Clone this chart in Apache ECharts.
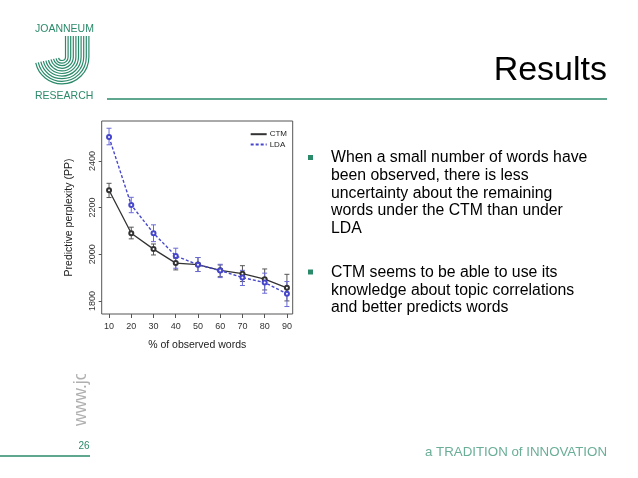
<!DOCTYPE html>
<html>
<head>
<meta charset="utf-8">
<script src="https://cdn.jsdelivr.net/npm/echarts@6/dist/echarts.min.js"></script>
<style>
html,body{margin:0;padding:0;background:#fff;}
#c{width:638px;height:478px;}
</style>
</head>
<body>
<div id="c"></div>
<script>
const pct = [10, 20, 30, 40, 50, 60, 70, 80, 90];
const ctmPP = [2274, 2090, 2022, 1962, 1956, 1931, 1917, 1893, 1856];
const ctmLow = [2243, 2066, 1997, 1933, 1926, 1904, 1883, 1847, 1800];
const ctmHigh = [2304, 2116, 2044, 1983, 1986, 1954, 1951, 1937, 1914];
const ldaPP = [2502, 2211, 2090, 1993, 1955, 1930, 1900, 1879, 1831];
const ldaLow = [2469, 2178, 2054, 1940, 1926, 1900, 1866, 1833, 1776];
const ldaHigh = [2540, 2244, 2126, 2026, 1986, 1957, 1931, 1919, 1883];
const xTicks = [10, 20, 30, 40, 50, 60, 70, 80, 90];
const yTicks = [1800, 2000, 2200, 2400];
const seriesNames = ['CTM', 'LDA'];
const titleText = 'Results';
const bullet1 = ['When a small number of words have', 'been observed, there is less', 'uncertainty about the remaining', 'words under the CTM than under', 'LDA'];
const bullet2 = ['CTM seems to be able to use its', 'knowledge about topic correlations', 'and better predicts words'];

const GREEN = '#2b8a6a';
const FONT = '"Liberation Sans", Arial, sans-serif';
const CTM_COLOR = '#333333';
const LDA_COLOR = '#4646cc';

function errBar(color) {
  return function (params, api) {
    const x = api.value(0);
    const p1 = api.coord([x, api.value(1)]);
    const p2 = api.coord([x, api.value(2)]);
    const w = 2.5;
    const st = { stroke: color, lineWidth: 1 };
    return {
      type: 'group',
      children: [
        { type: 'line', shape: { x1: p1[0], y1: p1[1], x2: p2[0], y2: p2[1] }, style: st },
        { type: 'line', shape: { x1: p1[0] - w, y1: p1[1], x2: p1[0] + w, y2: p1[1] }, style: st },
        { type: 'line', shape: { x1: p2[0] - w, y1: p2[1], x2: p2[0] + w, y2: p2[1] }, style: st }
      ]
    };
  };
}

// Logo stripes (decoration)
const logo = [];
for (let i = 0; i < 10; i++) {
  const x = 65.5 + i * 2.6;
  const r = x - 62;
  logo.push({ type: 'line', shape: { x1: x, y1: 36, x2: x, y2: 57 }, style: { stroke: GREEN, lineWidth: 1.2 } });
  logo.push({ type: 'arc', shape: { cx: 62, cy: 57, r: r, startAngle: 0, endAngle: Math.PI * 0.93, clockwise: true }, style: { stroke: GREEN, lineWidth: 1.2, fill: null } });
}

const graphics = [].concat(logo, [
  { type: 'text', left: 35, top: 24, style: { text: 'JOANNEUM', font: '10.5px ' + FONT, fill: GREEN } },
  { type: 'text', left: 35, top: 91, style: { text: 'RESEARCH', font: '10.5px ' + FONT, fill: GREEN } },
  { type: 'line', shape: { x1: 107, y1: 99, x2: 607, y2: 99 }, style: { stroke: GREEN, lineWidth: 1.5 } },
  { type: 'text', x: 607, y: 71, style: { text: titleText, font: '34px ' + FONT, fill: '#000', align: 'right', verticalAlign: 'middle' } },
  { type: 'text', x: 81, y: 426, z: 1, rotation: Math.PI / 2, style: { text: 'www.jo', font: '17.5px ' + FONT, fill: '#b0b0b0', align: 'left', verticalAlign: 'middle' } },
  { type: 'rect', z: 5, shape: { x: 65, y: 330, width: 34, height: 44 }, style: { fill: '#fff' } },
  { type: 'text', x: 84, y: 446, style: { text: '26', font: '10px ' + FONT, fill: GREEN, align: 'center', verticalAlign: 'middle' } },
  { type: 'line', shape: { x1: 0, y1: 456, x2: 90, y2: 456 }, style: { stroke: GREEN, lineWidth: 1.5 } },
  { type: 'text', x: 607, y: 452, style: { text: 'a TRADITION of INNOVATION', font: '13.3px ' + FONT, fill: '#6aae98', align: 'right', verticalAlign: 'middle' } }
]);

function addBullet(lines, y0) {
  graphics.push({ type: 'rect', shape: { x: 308, y: y0 - 3, width: 5, height: 5 }, style: { fill: GREEN } });
  lines.forEach(function (t, i) {
    graphics.push({ type: 'text', x: 331, y: y0 + i * 17.7, style: { text: t, font: '15.8px ' + FONT, fill: '#000', align: 'left', verticalAlign: 'middle' } });
  });
}
addBullet(bullet1, 158);
addBullet(bullet2, 272.5);

const chart = echarts.init(document.getElementById('c'), null, { renderer: 'canvas' });
chart.setOption({
  backgroundColor: '#fff',
  animation: false,
  graphic: graphics,
  legend: {
    data: seriesNames,
    orient: 'vertical',
    right: 346,
    top: 125,
    itemWidth: 16,
    itemHeight: 8,
    itemGap: 2,
    textStyle: { fontFamily: FONT, fontSize: 8, color: '#222', padding: [0, 0, 0, -2] },
    itemStyle: { opacity: 0 }
  },
  grid: {
    left: 101.7, top: 121, right: 345.3, bottom: 164,
    show: true, borderColor: '#555', borderWidth: 1, backgroundColor: 'transparent'
  },
  xAxis: {
    type: 'value', min: 6.7, max: 92.6,
    name: '% of observed words', nameLocation: 'middle', nameGap: 26,
    nameTextStyle: { fontFamily: FONT, fontSize: 10.5, color: '#222' },
    axisLine: { show: false },
    splitLine: { show: false },
    axisTick: { show: true, length: 4, customValues: xTicks, lineStyle: { color: '#555' } },
    axisLabel: { customValues: xTicks, margin: 8, fontFamily: FONT, fontSize: 9, color: '#333' }
  },
  yAxis: {
    type: 'value', min: 1744, max: 2571,
    name: 'Predictive perplexity (PP)', nameLocation: 'middle', nameGap: 27, nameRotate: 90,
    nameTextStyle: { fontFamily: FONT, fontSize: 10.5, color: '#222' },
    axisLine: { show: false },
    splitLine: { show: false },
    axisTick: { show: true, length: 3, customValues: yTicks, lineStyle: { color: '#555' } },
    axisLabel: { customValues: yTicks, rotate: 90, margin: 5, fontFamily: FONT, fontSize: 9, color: '#333',
      formatter: function (v) { return String(v); } }
  },
  series: [
    {
      name: 'CTM', type: 'line',
      data: pct.map(function (x, i) { return [x, ctmPP[i]]; }),
      symbol: 'emptyCircle', symbolSize: 4,
      lineStyle: { color: CTM_COLOR, width: 1.3 },
      itemStyle: { color: CTM_COLOR, borderWidth: 0.8 },
      z: 3
    },
    {
      name: 'LDA', type: 'line',
      data: pct.map(function (x, i) { return [x, ldaPP[i]]; }),
      symbol: 'emptyCircle', symbolSize: 4,
      lineStyle: { color: LDA_COLOR, width: 1.4, type: [3, 2] },
      itemStyle: { color: LDA_COLOR, borderWidth: 0.8 },
      z: 3
    },
    {
      name: 'CTM err', type: 'custom',
      data: pct.map(function (x, i) { return [x, ctmLow[i], ctmHigh[i]]; }),
      encode: { x: 0, y: [1, 2] },
      renderItem: errBar('#555555'),
      z: 2
    },
    {
      name: 'LDA err', type: 'custom',
      data: pct.map(function (x, i) { return [x, ldaLow[i], ldaHigh[i]]; }),
      encode: { x: 0, y: [1, 2] },
      renderItem: errBar('#6a6ad6'),
      z: 2
    }
  ]
});
</script>
</body>
</html>
